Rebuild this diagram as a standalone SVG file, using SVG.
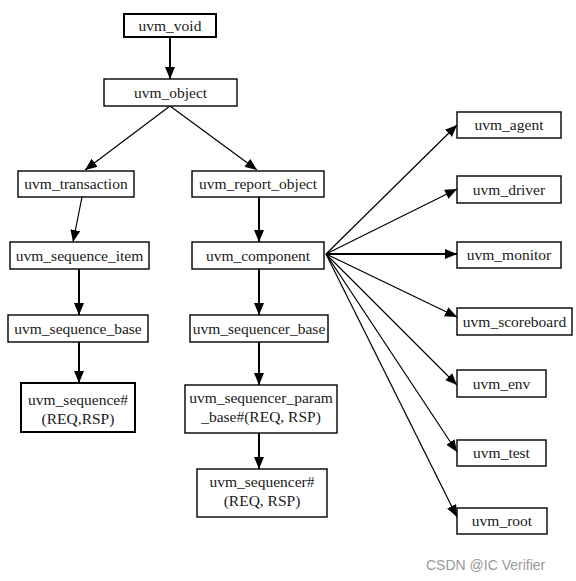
<svg xmlns="http://www.w3.org/2000/svg" width="576" height="581" viewBox="0 0 576 581">
<style>
.b{fill:#fff;stroke:#000;stroke-width:1.4}
.b.thick{stroke-width:2}
text{font-family:"Liberation Serif","Times New Roman",serif;font-size:15.5px;fill:#1a1a1a;text-anchor:middle}
.c{fill:none;stroke:#000;marker-end:url(#ah)}
.t{stroke-width:2}
.n{stroke-width:1.2}
.wm{font-family:"Liberation Sans",Arial,sans-serif;font-size:14px;fill:#999;text-anchor:start}
</style>
<defs>
<marker id="ah" markerUnits="userSpaceOnUse" markerWidth="13" markerHeight="10" refX="12" refY="5" orient="auto">
<path d="M0,0 L12,5 L0,10 z" fill="#000"/>
</marker>
</defs>
<rect width="576" height="581" fill="#fff"/>
<g id="connectors">
<path class="c t" d="M170,37 L170,79"/>
<path class="c n" d="M170,106 L85,170"/>
<path class="c n" d="M170,106 L257,170"/>
<path class="c n" d="M82,197 L73,242"/>
<path class="c t" d="M79,269 L79,315"/>
<path class="c t" d="M79,342 L79,383"/>
<path class="c t" d="M259,197 L259,242"/>
<path class="c t" d="M259,269 L259,315"/>
<path class="c t" d="M259,342 L259,385"/>
<path class="c t" d="M259,433 L259,469"/>
<path class="c n" d="M326,254 L457,125"/>
<path class="c n" d="M326,254 L457,189"/>
<path class="c t" d="M326,254 L457,254"/>
<path class="c n" d="M326,254 L457,317"/>
<path class="c n" d="M326,254 L457,385"/>
<path class="c n" d="M326,254 L457,452"/>
<path class="c n" d="M326,254 L457,517"/>
</g>
<g id="uvm_void"><rect class="b thick" x="124" y="14" width="92" height="23"/><text x="170" y="30.5">uvm_void</text></g>
<g id="uvm_object"><rect class="b" x="104" y="79" width="133" height="27"/><text x="170.5" y="97.5">uvm_object</text></g>
<g id="uvm_transaction"><rect class="b" x="18" y="171" width="116" height="26"/><text x="76" y="189">uvm_transaction</text></g>
<g id="uvm_report_object"><rect class="b" x="192" y="171" width="132" height="26"/><text x="258" y="189">uvm_report_object</text></g>
<g id="uvm_sequence_item"><rect class="b" x="10" y="242" width="139" height="27"/><text x="79.5" y="260.5">uvm_sequence_item</text></g>
<g id="uvm_component"><rect class="b" x="192" y="242" width="132" height="27"/><text x="258" y="260.5">uvm_component</text></g>
<g id="uvm_sequence_base"><rect class="b" x="8" y="315" width="140" height="27"/><text x="78" y="333.5">uvm_sequence_base</text></g>
<g id="uvm_sequencer_base"><rect class="b" x="190" y="315" width="138" height="27"/><text x="259" y="333.5">uvm_sequencer_base</text></g>
<g id="uvm_sequence"><rect class="b thick" x="21" y="383" width="114" height="49"/><text x="78" y="404.5">uvm_sequence#</text><text x="78" y="424">(REQ,RSP)</text></g>
<g id="uvm_sequencer_param_base"><rect class="b" x="185" y="385" width="152" height="48"/><text x="261" y="403">uvm_sequencer_param</text><text x="261" y="422">_base#(REQ, RSP)</text></g>
<g id="uvm_sequencer"><rect class="b" x="197" y="469" width="130" height="48"/><text x="262" y="487">uvm_sequencer#</text><text x="262" y="506">(REQ, RSP)</text></g>
<g id="uvm_agent"><rect class="b" x="457" y="112" width="104" height="26"/><text x="509" y="130">uvm_agent</text></g>
<g id="uvm_driver"><rect class="b" x="457" y="176" width="104" height="27"/><text x="509" y="194.5">uvm_driver</text></g>
<g id="uvm_monitor"><rect class="b" x="457" y="242" width="104" height="26"/><text x="509" y="260">uvm_monitor</text></g>
<g id="uvm_scoreboard"><rect class="b" x="457" y="308" width="115" height="27"/><text x="514.5" y="326.5">uvm_scoreboard</text></g>
<g id="uvm_env"><rect class="b" x="457" y="370" width="89" height="27"/><text x="501.5" y="388.5">uvm_env</text></g>
<g id="uvm_test"><rect class="b" x="457" y="440" width="89" height="26"/><text x="501.5" y="458">uvm_test</text></g>
<g id="uvm_root"><rect class="b" x="457" y="508" width="90" height="26"/><text x="502" y="526">uvm_root</text></g>
<text class="wm" x="426" y="570">CSDN @IC Verifier</text>
</svg>
